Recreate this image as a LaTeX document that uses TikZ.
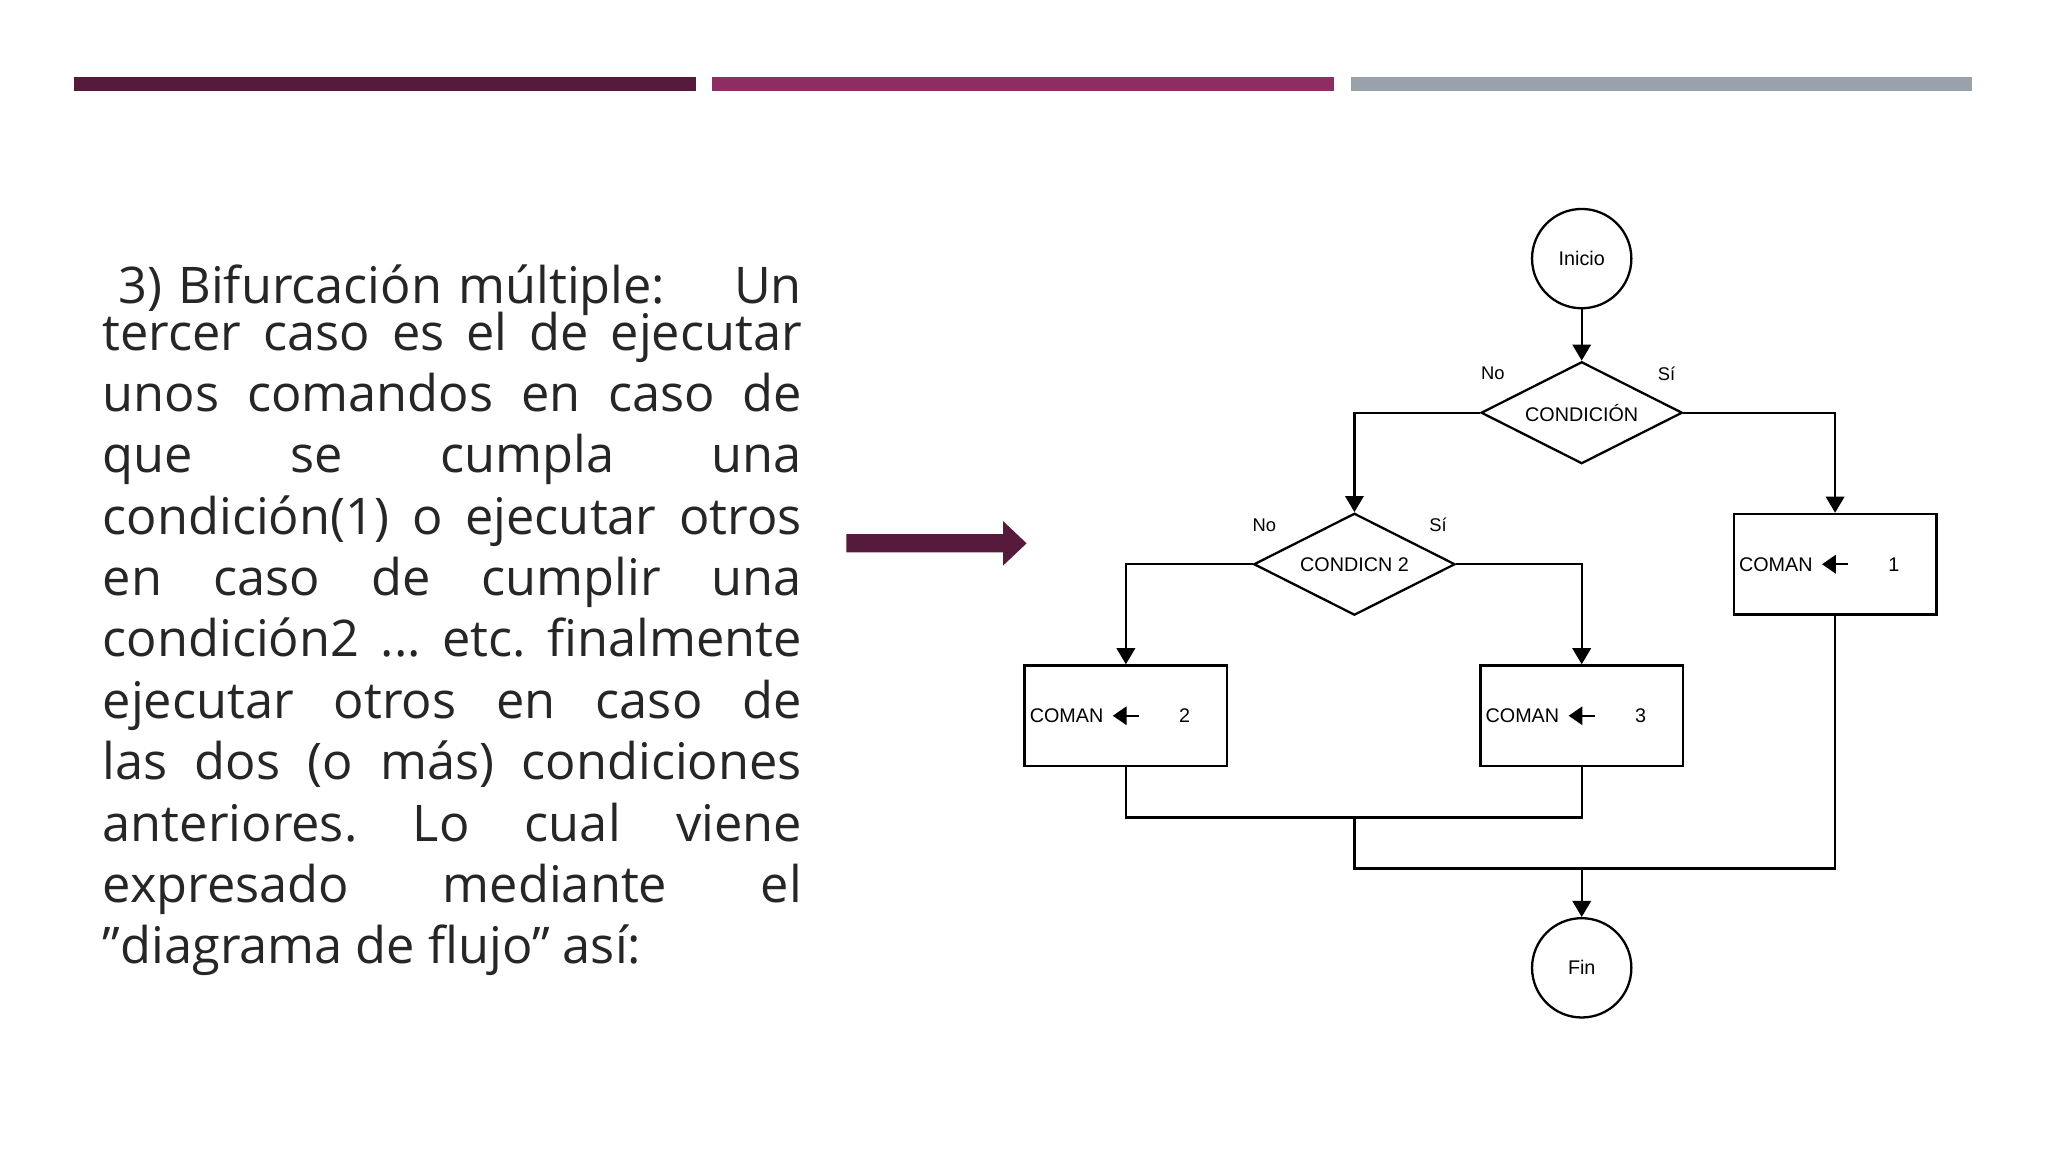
\documentclass[tikz,border=0pt]{standalone}
\usepackage{fontspec}
\setmainfont{Open Sans}
\newfontfamily\arialf{Liberation Sans}
\usetikzlibrary{shapes.geometric,arrows.meta}
\definecolor{barA}{HTML}{561A3C}
\definecolor{barB}{HTML}{8E2D62}
\definecolor{barC}{HTML}{99A2AA}
\tikzset{
 fc/.style={draw,line width=0.5pt,font=\arialf\fontsize{4.3}{5}\selectfont},
 circ/.style={fc,circle,minimum size=0.76cm,inner sep=0pt},
 dia/.style={fc,diamond,aspect=1.97,minimum width=1.54cm,minimum height=0.78cm,inner sep=0pt},
 box/.style={fc,rectangle,minimum width=1.55cm,minimum height=0.77cm,inner sep=0pt},
 ln/.style={line width=0.5pt},
 ar/.style={ln,-{Triangle[length=3.5pt,width=4pt]}},
 lab/.style={font=\arialf\fontsize{4}{5}\selectfont},
 para/.style={anchor=base west,inner sep=0pt,font=\fontsize{11}{13}\selectfont\color{black!85}}
}
\newcommand{\myline}[1]{\makebox[5.35cm][s]{#1}}
\newcommand{\gp}{\hskip 0.25em plus 1fil\relax}
\begin{document}
\begin{tikzpicture}[x=0.01cm,y=-0.01cm]
\useasboundingbox (0,0) rectangle (1568,882);
\fill[white] (0,0) rectangle (1568,882);
\fill[barA] (57,59) rectangle (533,70);
\fill[barB] (545,59) rectangle (1021,70);
\fill[barC] (1034,59) rectangle (1510,70);
% text
\node[para] (l1) at (90,232) {\makebox[5.23cm][s]{3)\gp Bifurcación\gp múltiple:\hskip 0.5cm plus 1fil Un}};
\node[para] (l2) at (78,268) {\myline{tercer\gp caso\gp es\gp el\gp de\gp ejecutar}};
\node[para] (l3) at (78,315) {\myline{unos\gp comandos\gp en\gp caso\gp de}};
\node[para] (l4) at (78,362) {\myline{que\gp se\gp cumpla\gp una}};
\node[para] (l5) at (78,409) {\myline{condición(1)\gp o\gp ejecutar\gp otros}};
\node[para] (l6) at (78,456) {\myline{en\gp caso\gp de\gp cumplir\gp una}};
\node[para] (l7) at (78,503) {\myline{condición2\gp ...\gp etc.\gp finalmente}};
\node[para] (l8) at (78,550) {\myline{ejecutar\gp otros\gp en\gp caso\gp de}};
\node[para] (l9) at (78,597) {\myline{las\gp dos\gp (o\gp más)\gp condiciones}};
\node[para] (l10) at (78,644) {\myline{anteriores.\gp Lo\gp cual\gp viene}};
\node[para] (l11) at (78,691) {\myline{expresado\gp mediante\gp el}};
\node[para] (l12) at (78,738) {\symbol{34}diagrama de flujo\symbol{34} así:};
% big arrow
\fill[barA] (648,409) -- (768,409) -- (768,399) -- (786,416) -- (768,433) -- (768,423) -- (648,423) -- cycle;
% flowchart
\node[circ] (ini) at (1211,198) {Inicio};
\node[dia] (c1) at (1211,316) {CONDICIÓN};
\node[box] (b1) at (1405,432) {};
\node[dia] (c2) at (1037,432) {CONDICN 2};
\node[box] (b2) at (862,548) {};
\node[box] (b3) at (1211,548) {};
\node[circ] (fin) at (1211,741) {Fin};
\foreach \b/\n in {b1/1,b2/2,b3/3}{
 \node[fc,draw=none,anchor=west,inner sep=0pt] (t\b) at ([xshift=0.04cm]\b.west) {COMAN};
 \draw[ln,{Triangle[length=3pt,width=4pt]}-] ([xshift=-0.1cm]\b.center) -- ([xshift=0.1cm]\b.center);
 \node[fc,draw=none] (n\b) at ([xshift=0.45cm]\b.center) {\n};
}
\node[lab] (no1) at (1143,286) {No};
\node[lab] (si1) at (1276,286) {Sí};
\node[lab] (no2) at (968,402) {No};
\node[lab] (si2) at (1101,402) {Sí};
\draw[ar] (ini) -- (c1);
\draw[ar] (c1.west) -| (c2.north);
\draw[ar] (c1.east) -| (b1.north);
\draw[ar] (c2.west) -| (b2.north);
\draw[ar] (c2.east) -| (b3.north);
\coordinate (m1) at (1037,626);
\coordinate (m2) at (1211,665);
\draw[ln] (b2.south) |- (m1) -| (b3.south);
\draw[ln] (m1) |- (m2) -| (b1.south);
\draw[ar] (m2) -- (fin);
\end{tikzpicture}
\end{document}
